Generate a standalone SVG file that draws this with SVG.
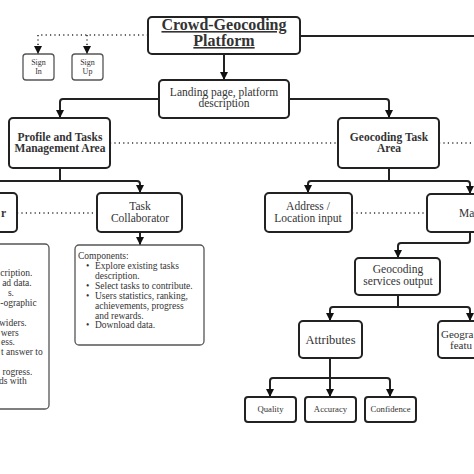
<svg xmlns="http://www.w3.org/2000/svg" width="474" height="474" viewBox="0 0 474 474">
<defs>
<marker id="arr" markerWidth="8" markerHeight="8" refX="8" refY="4" orient="auto" markerUnits="userSpaceOnUse"><path d="M0,0 L8,4 L0,8 z" fill="#111"/></marker>
<style>
text{font-family:"Liberation Serif","DejaVu Serif",serif;fill:#333;text-anchor:middle}
.box{fill:#fff;stroke:#222;stroke-width:2}
.thin{fill:#fff;stroke:#555;stroke-width:1.3}
.ln{fill:none;stroke:#222;stroke-width:2}
.arr{marker-end:url(#arr)}
.dot{fill:none;stroke:#333;stroke-width:1.6;stroke-dasharray:1.2 3.2}
.t11{font-size:11.5px}
.b11{font-size:11.5px;font-weight:bold}
.s9{font-size:9.5px;text-anchor:start}
.e9{font-size:9.5px;text-anchor:end}
.s8{font-size:8px}
</style>
</defs>
<rect width="474" height="474" fill="#fff"/>
<g id="connectors">
<path class="ln" d="M300,36 H474"/>
<path class="dot arr" d="M148,35 H38 V54"/>
<path class="dot arr" d="M87,35 V54"/>
<path class="ln arr" d="M224,54 V80"/>
<path class="ln arr" d="M159,99 H63 Q60,99 60,102 V118"/>
<path class="ln arr" d="M289,99 H386 Q389,99 389,102 V118"/>
<path class="dot" d="M110,143 H338"/>
<path class="dot" d="M439,143 H474"/>
<path class="ln" d="M60,168 V181 M0,181 H60"/>
<path class="ln arr" d="M60,181 H137 Q140,181 140,184 V193"/>
<path class="dot" d="M17,213 H97"/>
<path class="ln arr" d="M140,232 V245"/>
<path class="ln" d="M389,168 V181"/>
<path class="ln arr" d="M389,181 H311 Q308,181 308,184 V193"/>
<path class="ln arr" d="M389,181 H467 Q470,181 470,184 V194"/>
<path class="dot" d="M352,213 H427"/>
<path class="ln arr" d="M470,232 V240 Q470,243 467,243 H401 Q398,243 398,246 V258"/>
<path class="ln" d="M398,295 V307"/>
<path class="ln arr" d="M398,307 H333 Q330,307 330,310 V321"/>
<path class="ln arr" d="M398,307 H467 Q470,307 470,310 V321"/>
<path class="ln arr" d="M330,358 V397"/>
<path class="ln arr" d="M330,378 H273 Q270,378 270,381 V397"/>
<path class="ln arr" d="M330,378 H387 Q390,378 390,381 V397"/>
</g>
<g id="title">
<rect class="box" x="148" y="17" width="152" height="37" rx="4"/>
<text x="224" y="30" style="font-size:16px;font-weight:bold;text-decoration:underline">Crowd-Geocoding</text>
<text x="224" y="46" style="font-size:16px;font-weight:bold;text-decoration:underline">Platform</text>
</g>
<g id="signin">
<rect class="thin" x="23" y="54" width="31" height="26" rx="3"/>
<text class="s8" x="38.5" y="65">Sign</text>
<text class="s8" x="38.5" y="74">In</text>
</g>
<g id="signup">
<rect class="thin" x="72" y="54" width="31" height="26" rx="3"/>
<text class="s8" x="87.5" y="65">Sign</text>
<text class="s8" x="87.5" y="74">Up</text>
</g>
<g id="landing">
<rect class="box" x="159" y="80" width="130" height="38" rx="4"/>
<text class="t11" x="224" y="96">Landing page, platform</text>
<text class="t11" x="224" y="107">description</text>
</g>
<g id="profile">
<rect class="box" x="9" y="118" width="101" height="50" rx="4"/>
<text class="b11" x="60" y="141">Profile and Tasks</text>
<text class="b11" x="60" y="152">Management Area</text>
</g>
<g id="geotask">
<rect class="box" x="338" y="118" width="101" height="50" rx="4"/>
<text class="b11" x="389" y="141">Geocoding Task</text>
<text class="b11" x="389" y="152">Area</text>
</g>
<g id="leftnode">
<rect class="box" x="-60" y="193" width="77" height="39" rx="4"/>
<text class="b11" x="1" y="217" style="text-anchor:start">r</text>
</g>
<g id="collab">
<rect class="box" x="97" y="193" width="85" height="39" rx="4"/>
<text class="t11" x="140" y="210">Task</text>
<text class="t11" x="140" y="222">Collaborator</text>
</g>
<g id="leftcomponents">
<rect class="thin" x="-80" y="244" width="129" height="165" rx="4"/>
<text class="e9" x="32.3" y="276">cription.</text>
<text class="e9" x="31.7" y="286">ad data.</text>
<text class="e9" x="14" y="295.5">s.</text>
<text class="e9" x="36.7" y="305.5">-ographic</text>
<text class="e9" x="26.7" y="326">widers.</text>
<text class="e9" x="18.7" y="336">wers</text>
<text class="s9" x="1" y="345">ess.</text>
<text class="e9" x="42.7" y="355">t answer to</text>
<text class="e9" x="32.3" y="374.5">rogress.</text>
<text class="e9" x="26.7" y="384">ds with</text>
</g>
<g id="components">
<rect class="thin" x="75" y="245" width="129" height="100" rx="4"/>
<text class="s9" x="78" y="259">Components:</text>
<text class="s9" x="86" y="269">•</text>
<text class="s9" x="95" y="269">Explore existing tasks</text>
<text class="s9" x="95" y="279">description.</text>
<text class="s9" x="86" y="289">•</text>
<text class="s9" x="95" y="289">Select tasks to contribute.</text>
<text class="s9" x="86" y="299">•</text>
<text class="s9" x="95" y="299">Users statistics, ranking,</text>
<text class="s9" x="95" y="308.5">achievements, progress</text>
<text class="s9" x="95" y="318.5">and rewards.</text>
<text class="s9" x="86" y="328">•</text>
<text class="s9" x="95" y="328">Download data.</text>
</g>
<g id="address">
<rect class="box" x="265" y="193" width="87" height="39" rx="4"/>
<text class="t11" x="308" y="210">Address /</text>
<text class="t11" x="308" y="222">Location input</text>
</g>
<g id="mapnode">
<rect class="box" x="427" y="194" width="80" height="38" rx="4"/>
<text class="t11" x="459" y="217" style="text-anchor:start">Ma</text>
</g>
<g id="gso">
<rect class="box" x="355" y="258" width="85" height="37" rx="4"/>
<text class="t11" x="398" y="273">Geocoding</text>
<text class="t11" x="398" y="284.5">services output</text>
</g>
<g id="attributes">
<rect class="box" x="299" y="321" width="63" height="37" rx="4"/>
<text x="330.5" y="344" style="font-size:12.5px">Attributes</text>
</g>
<g id="geofeat">
<rect class="box" x="438" y="321" width="80" height="37" rx="4"/>
<text x="441" y="337.5" style="text-anchor:start;font-size:11px">Geogra</text>
<text x="450" y="348.5" style="text-anchor:start;font-size:11px">featu</text>
</g>
<g id="quality">
<rect class="box" x="245" y="397" width="51" height="25" rx="3"/>
<text x="270.5" y="412" style="font-size:8.7px">Quality</text>
</g>
<g id="accuracy">
<rect class="box" x="305" y="397" width="51" height="25" rx="3"/>
<text x="330.5" y="412" style="font-size:8.7px">Accuracy</text>
</g>
<g id="confidence">
<rect class="box" x="365" y="397" width="51" height="25" rx="3"/>
<text x="390.5" y="412" style="font-size:8.7px">Confidence</text>
</g>
</svg>
